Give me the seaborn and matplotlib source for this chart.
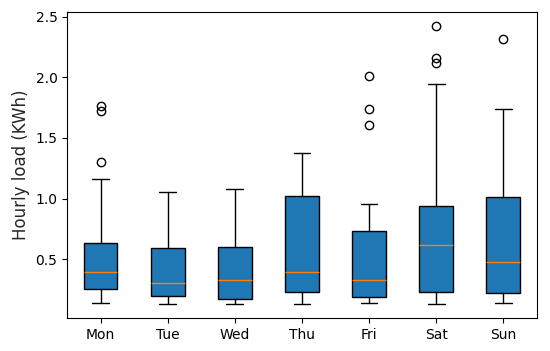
import matplotlib
matplotlib.use("Agg")
import matplotlib.pyplot as plt
import seaborn as sns

# box statistics (KWh)
days = ["Mon", "Tue", "Wed", "Thu", "Fri", "Sat", "Sun"]
whislo = [0.14, 0.13, 0.13, 0.13, 0.14, 0.13, 0.14]
q1 = [0.256, 0.20, 0.176, 0.231, 0.187, 0.231, 0.22]
med = [0.394, 0.303, 0.328, 0.394, 0.328, 0.618, 0.477]
q3 = [0.637, 0.591, 0.604, 1.022, 0.734, 0.942, 1.011]
whishi = [1.163, 1.058, 1.083, 1.373, 0.956, 1.943, 1.736]
fliers = [
    [1.76, 1.72, 1.30],
    [],
    [],
    [],
    [2.015, 1.739, 1.608],
    [2.425, 2.16, 2.118],
    [2.317],
]

sns.set_style("ticks")
plt.rcParams.update({
    "axes.edgecolor": "black",
    "xtick.color": "black",
    "ytick.color": "black",
    "xtick.direction": "out",
    "ytick.direction": "out",
    "font.family": ["DejaVu Sans"],
})

stats = []
for i, d in enumerate(days):
    stats.append({
        "label": d,
        "whislo": whislo[i],
        "q1": q1[i],
        "med": med[i],
        "q3": q3[i],
        "whishi": whishi[i],
        "fliers": fliers[i],
    })

fig = plt.figure(figsize=(5.5, 3.51), dpi=100)
ax = fig.add_axes([0.122, 0.094, 0.854, 0.872])

ax.bxp(
    stats,
    widths=0.5,
    patch_artist=True,
    boxprops=dict(facecolor="#1f77b4", edgecolor="black", linewidth=1),
    medianprops=dict(color="#ff7f0e", linewidth=1),
    whiskerprops=dict(color="black", linewidth=1),
    capprops=dict(color="black", linewidth=1),
    flierprops=dict(marker="o", markerfacecolor="none", markeredgecolor="black",
                    markersize=6),
)

ax.set_ylabel("Hourly load (KWh)", fontsize=12)
ax.set_yticks([0.5, 1.0, 1.5, 2.0, 2.5])
ax.tick_params(labelsize=10)
for s in ax.spines.values():
    s.set_linewidth(0.8)

fig.savefig("out.png", dpi=100)
